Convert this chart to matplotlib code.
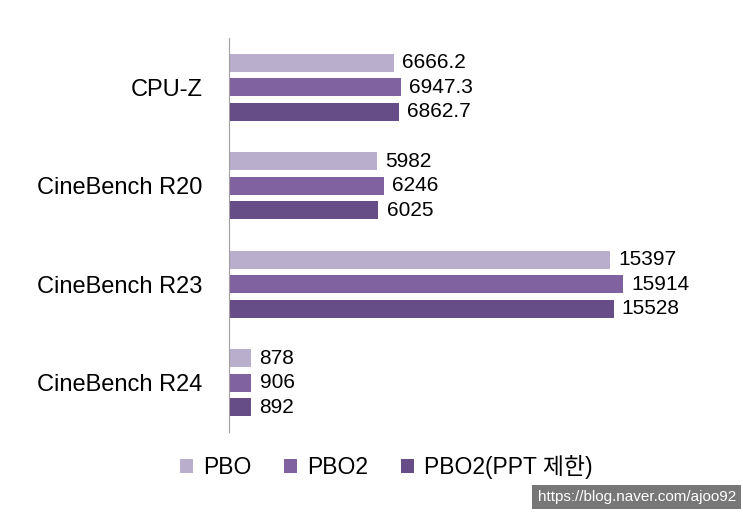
import numpy as np
import matplotlib.pyplot as plt

plt.rcParams['font.family'] = ['Liberation Sans', 'Noto Sans CJK KR', 'DejaVu Sans']

# Data
categories = ['CPU-Z', 'CineBench R20', 'CineBench R23', 'CineBench R24']
series_names = ['PBO', 'PBO2', 'PBO2(PPT 제한)']
pbo = [6666.2, 5982, 15397, 878]
pbo2 = [6947.3, 6246, 15914, 906]
pbo2_ppt = [6862.7, 6025, 15528, 892]
labels_pbo = ['6666.2', '5982', '15397', '878']
labels_pbo2 = ['6947.3', '6246', '15914', '906']
labels_ppt = ['6862.7', '6025', '15528', '892']

colors = ['#B9AECC', '#8062A0', '#664D87']

fig = plt.figure(figsize=(7.43, 5.15), dpi=100)
ax = fig.add_axes([229 / 743, 1 - 432 / 515, (700 - 229) / 743, (432 - 38) / 515])

y = np.arange(len(categories))
pitch = 0.249
height = 0.183
for i, (vals, labs) in enumerate(zip([pbo, pbo2, pbo2_ppt], [labels_pbo, labels_pbo2, labels_ppt])):
    bars = ax.barh(y + (i - 1) * pitch, vals, height=height, color=colors[i],
                   label=series_names[i])
    ax.bar_label(bars, labels=labs, padding=6, fontsize=15)

ax.set_xlim(0, 19020)
ax.set_ylim(3.5, -0.5)
ax.set_yticks(y)
ax.set_yticklabels(categories, fontsize=17)
ax.tick_params(axis='y', length=0, pad=19)
ax.set_xticks([])
for s in ['top', 'right', 'bottom']:
    ax.spines[s].set_visible(False)
ax.spines['left'].set_color('#A0A0A0')

fig.legend(loc='center', bbox_to_anchor=(0.52, 1 - 467 / 515), ncol=3, frameon=False,
           fontsize=16.5, handlelength=0.58, handleheight=0.58, columnspacing=1.4,
           handletextpad=0.45)

fig.text(0.9905, 1 - 497 / 515, 'https://blog.naver.com/ajoo92', color='white', fontsize=11,
         ha='right', va='center',
         bbox=dict(boxstyle='square,pad=0.35', facecolor='#777777', edgecolor='none'))

fig.savefig('out.png', dpi=100)
